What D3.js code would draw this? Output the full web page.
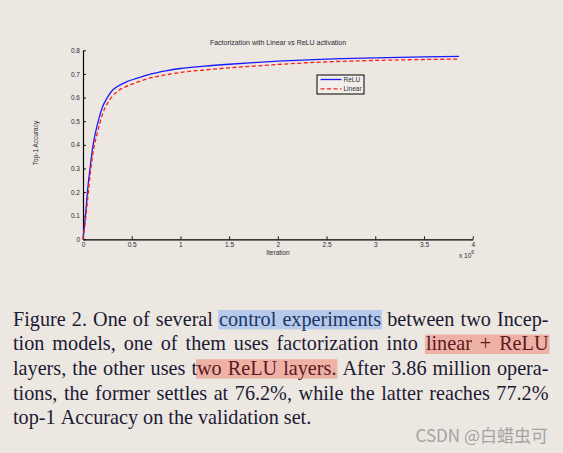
<!DOCTYPE html>
<html>
<head>
<meta charset="utf-8">
<script src="https://cdn.jsdelivr.net/npm/d3@7"></script>
<style>
  html, body { margin: 0; padding: 0; background: #ece7e0; }
  svg { display: block; }
</style>
</head>
<body>
<svg id="fig" width="563" height="453"></svg>
<script>
// iterations in units of 1e6
var iterations = [0, 0.025, 0.05, 0.075, 0.1, 0.15, 0.2, 0.25, 0.3, 0.35, 0.45, 0.55, 0.7, 0.85, 1.0, 1.25, 1.5, 1.75, 2.0, 2.5, 3.0, 3.5, 3.86];
var reluAcc   = [0, 0.10, 0.22, 0.31, 0.39, 0.49, 0.56, 0.60, 0.63, 0.646, 0.667, 0.681, 0.70, 0.713, 0.723, 0.733, 0.741, 0.748, 0.754, 0.763, 0.768, 0.772, 0.774];
var linearAcc = [0, 0.08, 0.18, 0.28, 0.36, 0.455, 0.53, 0.575, 0.605, 0.625, 0.648, 0.664, 0.684, 0.696, 0.706, 0.717, 0.726, 0.733, 0.740, 0.751, 0.757, 0.761, 0.763];
var seriesNames = ["ReLU", "Linear"];
var xTicks = [0, 0.5, 1, 1.5, 2, 2.5, 3, 3.5, 4];
var yTicks = [0, 0.1, 0.2, 0.3, 0.4, 0.5, 0.6, 0.7, 0.8];

// caption lines: each word is a list of [text, highlight] parts
var captionLines = [
  [[["Figure",0]],[["2.",0]],[["One",0]],[["of",0]],[["several",0]],[["control","b"]],[["experiments","b"]],[["between",0]],[["two",0]],[["Incep-",0]]],
  [[["tion",0]],[["models,",0]],[["one",0]],[["of",0]],[["them",0]],[["uses",0]],[["factorization",0]],[["into",0]],[["linear","r"]],[["+","r"]],[["ReLU","r"]]],
  [[["layers,",0]],[["the",0]],[["other",0]],[["uses",0]],[["t",0],["wo","r"]],[["ReLU","r"]],[["layers.","r"]],[["After",0]],[["3.86",0]],[["million",0]],[["opera-",0]]],
  [[["tions,",0]],[["the",0]],[["former",0]],[["settles",0]],[["at",0]],[["76.2%,",0]],[["while",0]],[["the",0]],[["latter",0]],[["reaches",0]],[["77.2%",0]]],
  [[["top-1",0]],[["Accuracy",0]],[["on",0]],[["the",0]],[["validation",0]],[["set.",0]]]
];

var svg = d3.select("#fig");

var x = d3.scaleLinear().domain([0, 4]).range([83, 472.7]);
var y = d3.scaleLinear().domain([0, 0.8]).range([239.3, 50.3]);

var chartFont = "Liberation Sans, Arial, sans-serif";

// axes
var xAxis = svg.append("g")
    .attr("transform", "translate(0," + y(0) + ")")
    .call(d3.axisBottom(x).tickValues(xTicks).tickFormat(d3.format("")).tickSizeInner(-3).tickSizeOuter(0).tickPadding(3));
var yAxis = svg.append("g")
    .attr("transform", "translate(" + x(0) + ",0)")
    .call(d3.axisLeft(y).tickValues(yTicks).tickFormat(d3.format("")).tickSizeInner(-3).tickSizeOuter(0).tickPadding(3));

[xAxis, yAxis].forEach(function(a) {
  a.select(".domain").attr("stroke", "#000").attr("stroke-width", 1.2);
  a.selectAll(".tick line").attr("stroke", "#000").attr("stroke-width", 0.9);
  a.selectAll(".tick text").attr("fill", "#2b2b3a").style("font-family", chartFont).style("font-size", "6.5px");
});

// curves
var line = d3.line()
    .x(function(d) { return x(d[0]); })
    .y(function(d) { return y(d[1]); })
    .curve(d3.curveMonotoneX);

svg.append("path")
    .datum(d3.zip(iterations, reluAcc))
    .attr("d", line)
    .attr("fill", "none")
    .attr("stroke", "#1a1aff")
    .attr("stroke-width", 1.3);

svg.append("path")
    .datum(d3.zip(iterations, linearAcc))
    .attr("d", line)
    .attr("fill", "none")
    .attr("stroke", "#ff1a1a")
    .attr("stroke-width", 1.3)
    .attr("stroke-dasharray", "4,2.5");

// titles and labels
svg.append("text")
    .attr("x", 278).attr("y", 45)
    .attr("text-anchor", "middle")
    .style("font-family", chartFont).style("font-size", "7px").attr("fill", "#2b2b3a")
    .text("Factorization with Linear vs ReLU activation");

svg.append("text")
    .attr("x", 278).attr("y", 255)
    .attr("text-anchor", "middle")
    .style("font-family", chartFont).style("font-size", "6.5px").attr("fill", "#2b2b3a")
    .text("Iteration");

svg.append("text")
    .attr("transform", "translate(38,143) rotate(-90)")
    .attr("text-anchor", "middle")
    .style("font-family", chartFont).style("font-size", "6.5px").attr("fill", "#2b2b3a")
    .text("Top-1 Accuracy");

var expo = svg.append("text")
    .attr("x", 459).attr("y", 258)
    .style("font-family", chartFont).style("font-size", "6.5px").attr("fill", "#2b2b3a");
expo.append("tspan").text("x 10");
expo.append("tspan").attr("dy", -4).style("font-size", "5px").text("6");

// legend
var legend = svg.append("g").attr("transform", "translate(317,75)");
legend.append("rect")
    .attr("width", 47).attr("height", 19)
    .attr("fill", "#f2efea").attr("stroke", "#000").attr("stroke-width", 1);
var legendStyles = [
  {color: "#1a1aff", dash: null},
  {color: "#ff1a1a", dash: "4,2.5"}
];
seriesNames.forEach(function(name, i) {
  var row = legend.append("g").attr("transform", "translate(0," + (4.5 + i * 9.3) + ")");
  row.append("line")
      .attr("x1", 3.5).attr("x2", 24.5)
      .attr("stroke", legendStyles[i].color).attr("stroke-width", 1.3)
      .attr("stroke-dasharray", legendStyles[i].dash);
  row.append("text")
      .attr("x", 26.5).attr("y", 2.4)
      .style("font-family", chartFont).style("font-size", "6.5px").attr("fill", "#2b2b3a")
      .text(name);
});

// caption, justified word by word
var capFont = "Liberation Serif, 'Times New Roman', serif";
var capSize = 20.2;
var capLeft = 13, capRight = 548.5;
var capBase = 325.7, capLead = 24.6;
var hlFill = {b: "#b6cbeb", r: "#eeb1a6"};
var txtFill = {0: "#1b1a35", b: "#1d3566", r: "#5a1a1e"};

var capG = svg.append("g");
var hlLayer = capG.append("g");
var txtLayer = capG.append("g");

var measurer = svg.append("text").style("font-family", capFont).style("font-size", capSize + "px");
function measure(s) { measurer.text(s); return measurer.node().getComputedTextLength(); }
var spaceW = measure("a a") - measure("aa");

captionLines.forEach(function(words, li) {
  var base = capBase + li * capLead;
  var widths = words.map(function(w) {
    return w.map(function(p) { return measure(p[0]); });
  });
  var total = d3.sum(widths, function(ws) { return d3.sum(ws); });
  var last = li === captionLines.length - 1;
  var gap = last ? spaceW : (capRight - capLeft - total) / (words.length - 1);

  var pos = capLeft;
  var runs = [];
  var cur = null;
  words.forEach(function(w, wi) {
    w.forEach(function(p, pi) {
      var wpx = widths[wi][pi];
      if (p[1]) {
        if (cur && cur.k === p[1]) { cur.x1 = pos + wpx; }
        else { cur = {k: p[1], x0: pos, x1: pos + wpx}; runs.push(cur); }
      } else {
        cur = null;
      }
      txtLayer.append("text")
          .attr("x", pos).attr("y", base)
          .style("font-family", capFont).style("font-size", capSize + "px")
          .attr("fill", txtFill[p[1]])
          .text(p[0]);
      pos += wpx;
    });
    pos += gap;
  });

  runs.forEach(function(r) {
    hlLayer.append("rect")
        .attr("x", r.x0 - 1).attr("y", base - 15.7)
        .attr("width", r.x1 - r.x0 + 2).attr("height", 19.4)
        .attr("fill", hlFill[r.k]);
  });
});
measurer.remove();

// watermark
svg.append("text")
    .attr("x", 548).attr("y", 442)
    .attr("text-anchor", "end")
    .style("font-family", "'Noto Sans CJK SC', 'Noto Sans', sans-serif").style("font-size", "17px")
    .attr("fill", "#a3a3a3")
    .text("CSDN @白蜡虫可");
</script>
</body>
</html>
